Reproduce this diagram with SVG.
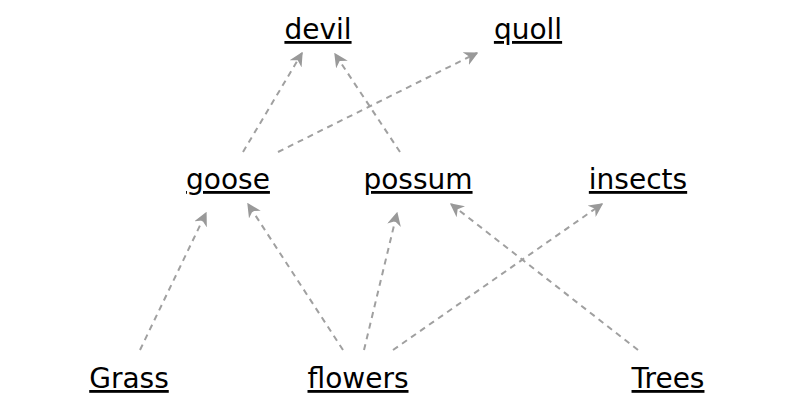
<svg xmlns="http://www.w3.org/2000/svg" width="800" height="404" viewBox="0 0 800 404">
<defs>
<marker id="ah" viewBox="0 0 10 10" refX="9" refY="5" markerWidth="7" markerHeight="7" markerUnits="strokeWidth" orient="auto">
<path d="M0,0 L10,5 L0,10 L3,5 Z" fill="#999"/>
</marker>
<style>
.n text{font-family:"DejaVu Sans","Liberation Sans",sans-serif;font-size:28px;fill:#000;text-anchor:middle;text-decoration:underline;}
.e line{stroke:#a0a0a0;stroke-width:2;stroke-dasharray:6,5;fill:none;marker-end:url(#ah);}
</style>
</defs>
<rect width="800" height="404" fill="#fff"/>
<g id="edges" class="e">
<line x1="140" y1="350" x2="206" y2="213"/>
<line x1="343" y1="350" x2="248" y2="204"/>
<line x1="364" y1="350" x2="397" y2="213"/>
<line x1="393" y1="350" x2="602" y2="204"/>
<line x1="638" y1="350" x2="451" y2="204"/>
<line x1="243" y1="152" x2="302" y2="53"/>
<line x1="278" y1="152" x2="477" y2="53"/>
<line x1="400" y1="152" x2="335" y2="54"/>
</g>
<g id="devil" class="n"><text x="318" y="39">devil</text></g>
<g id="quoll" class="n"><text x="528" y="39">quoll</text></g>
<g id="goose" class="n"><text x="228" y="189">goose</text></g>
<g id="possum" class="n"><text x="418" y="189">possum</text></g>
<g id="insects" class="n"><text x="638" y="189">insects</text></g>
<g id="Grass" class="n"><text x="129" y="388">Grass</text></g>
<g id="flowers" class="n"><text x="358" y="388">flowers</text></g>
<g id="Trees" class="n"><text x="668" y="388">Trees</text></g>
</svg>
